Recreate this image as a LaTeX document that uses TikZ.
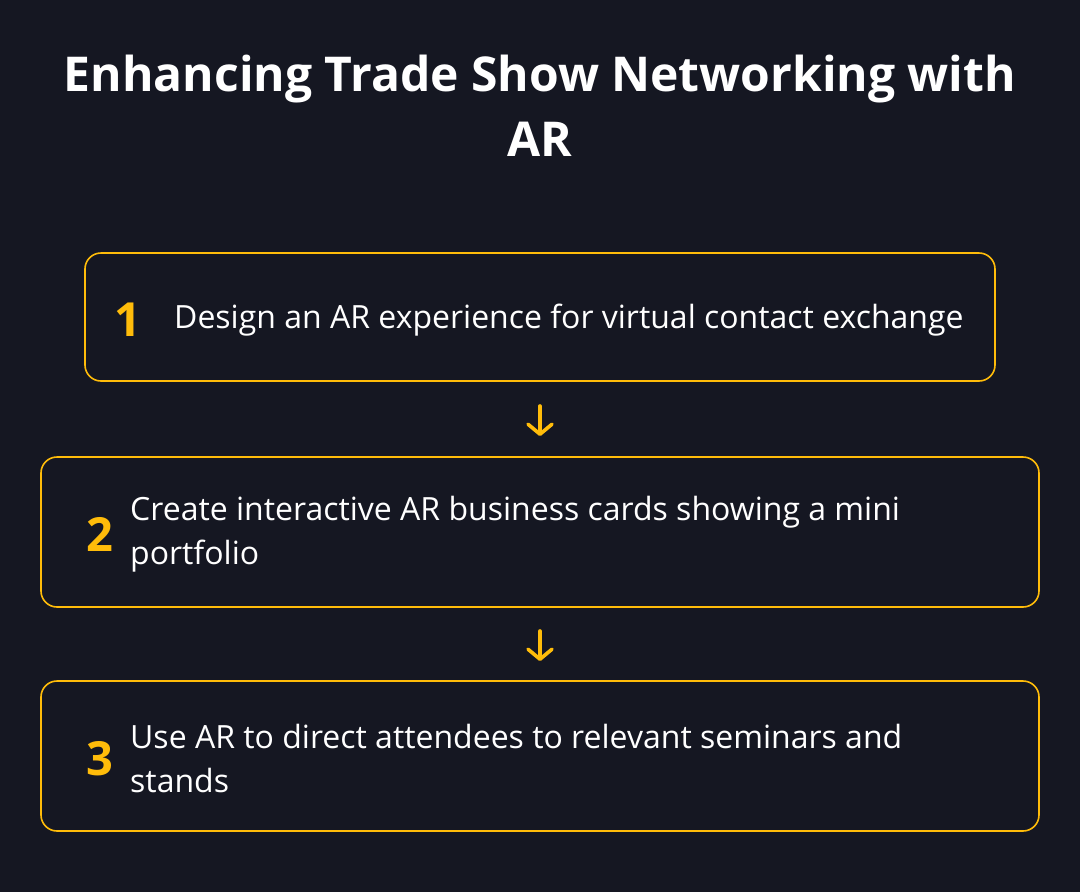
\documentclass[tikz,border=0pt]{standalone}
\usepackage{fontspec}
\setmainfont{Open Sans}
\usetikzlibrary{arrows.meta}
\definecolor{bg}{HTML}{151722}
\definecolor{accent}{HTML}{FFBC0A}
\tikzset{
  stepbox/.style={draw=accent, line width=1.6pt, rounded corners=16pt},
  numtxt/.style={text=accent, font=\fontsize{47}{47}\selectfont\bfseries, anchor=center, inner sep=0pt},
  bodytxt/.style={text=white, font=\fontsize{32}{44}\selectfont, anchor=west, align=left, inner sep=0pt},
  flowarrow/.style={draw=accent, line width=3.6pt, line cap=round, -{Straight Barb[length=10pt,width=24pt,line cap=round,line join=round]}}
}
\begin{document}
\begin{tikzpicture}[x=1pt,y=-1pt]
\fill[bg] (0,0) rectangle (1080,892);
\useasboundingbox (0,0) rectangle (1080,892);
\node[text=white, font=\fontsize{48}{65}\selectfont\bfseries, align=center, inner sep=0pt] (title) at (540,106) {Enhancing Trade Show Networking with\\AR};
\draw[stepbox] (85,253) rectangle (995,381);
\draw[stepbox] (41,457) rectangle (1039,607);
\draw[stepbox] (41,681) rectangle (1039,831);
\node[numtxt] (n1) at (128,320) {1};
\node[bodytxt] (t1) at (174,320) {Design an AR experience for virtual contact exchange};
\node[numtxt] (n2) at (100,534) {2};
\node[bodytxt] (t2) at (130,534) {Create interactive AR business cards showing a mini\\portfolio};
\node[numtxt] (n3) at (100,759) {3};
\node[bodytxt] (t3) at (130,758) {Use AR to direct attendees to relevant seminars and\\stands};
\coordinate (a1s) at (540,406);
\coordinate (a1e) at (540,436);
\coordinate (a2s) at (540,631);
\coordinate (a2e) at (540,661);
\draw[flowarrow] (a1s) -- (a1e);
\draw[flowarrow] (a2s) -- (a2e);
\end{tikzpicture}
\end{document}
